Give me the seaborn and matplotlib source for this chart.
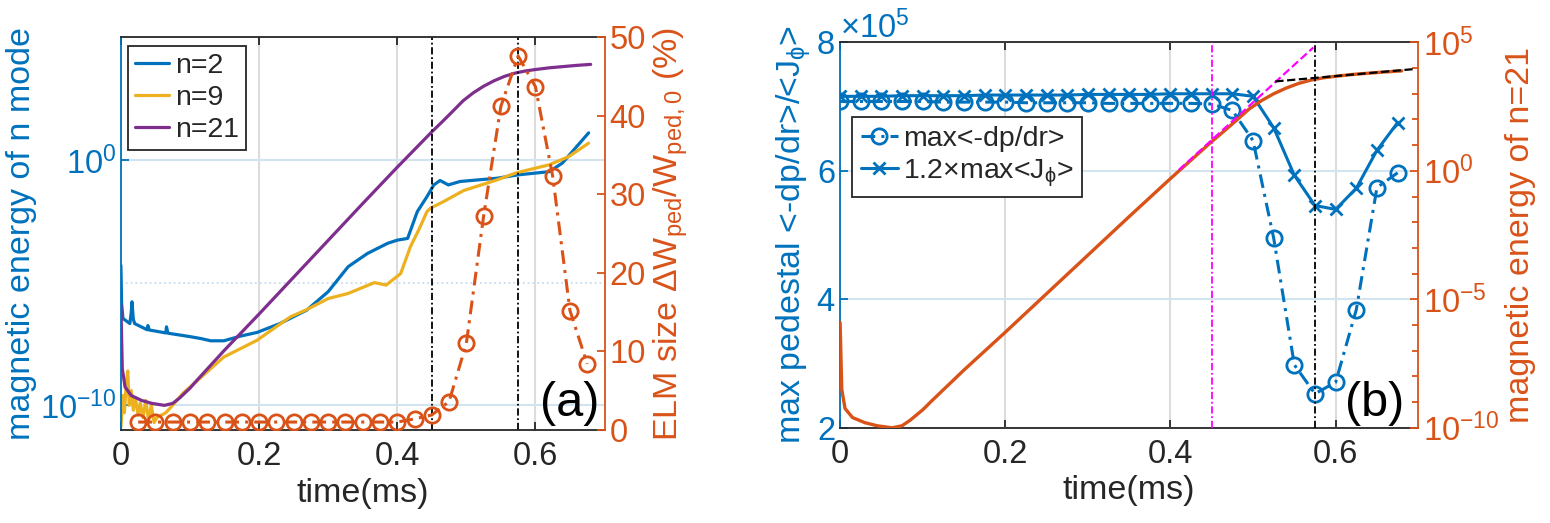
import numpy as np
import pandas as pd
import matplotlib
matplotlib.use("Agg")
import matplotlib.pyplot as plt
import seaborn as sns
from matplotlib.lines import Line2D
from matplotlib.ticker import FixedLocator, ScalarFormatter, LogLocator, NullFormatter

BLUE = "#0072BD"
ORANGE = "#D95319"
YELLOW = "#EDB120"
PURPLE = "#7E2F8E"
MAGENTA = "#FF00FF"
DARK = "#262626"

# ---- panel (a): magnetic energy of n modes (log10 values) ----
t_n2 = [0.0, 0.001, 0.003, 0.013, 0.015, 0.016, 0.018, 0.02, 0.038, 0.039, 0.041,
        0.065, 0.066, 0.068, 0.1, 0.116, 0.13, 0.149, 0.173, 0.197, 0.23, 0.269,
        0.3, 0.329, 0.357, 0.386, 0.4, 0.415, 0.429, 0.443, 0.453, 0.462, 0.474,
        0.491, 0.515, 0.544, 0.575, 0.62, 0.639, 0.677]
log_n2 = [-4.3, -5.85, -6.46, -6.67, -6.2, -5.78, -6.5, -6.67, -6.92, -6.75, -6.93,
          -7.05, -6.8, -7.06, -7.2, -7.28, -7.37, -7.37, -7.18, -7.03, -6.67, -6.12,
          -5.37, -4.35, -3.81, -3.4, -3.27, -3.2, -2.11, -1.5, -1.02, -0.84, -1.02,
          -0.88, -0.82, -0.75, -0.61, -0.48, -0.13, 1.1]

t_n9 = [0.0, 0.003, 0.005, 0.008, 0.01, 0.012, 0.015, 0.018, 0.021, 0.025, 0.028,
        0.032, 0.036, 0.04, 0.044, 0.048, 0.052, 0.065, 0.077, 0.09, 0.111, 0.149,
        0.197, 0.245, 0.269, 0.3, 0.329, 0.367, 0.384, 0.405, 0.419, 0.431, 0.443,
        0.448, 0.467, 0.496, 0.544, 0.572, 0.62, 0.648, 0.677]
log_n9 = [-10.9, -9.6, -10.3, -9.0, -8.6, -10.0, -9.4, -10.2, -9.7, -10.4, -9.9,
          -10.5, -9.8, -10.6, -10.0, -10.7, -10.5, -10.3, -9.93, -9.5, -8.98, -8.03,
          -7.35, -6.4, -6.1, -5.65, -5.44, -5.0, -5.1, -4.63, -3.54, -2.86, -2.11,
          -1.97, -1.7, -1.25, -0.82, -0.53, -0.2, 0.13, 0.68]

t_n21 = [0.0, 0.002, 0.006, 0.015, 0.03, 0.045, 0.063, 0.075, 0.085, 0.1, 0.111,
         0.15, 0.2, 0.25, 0.3, 0.35, 0.4, 0.45, 0.465, 0.48, 0.495, 0.51, 0.525,
         0.54, 0.555, 0.57, 0.585, 0.6, 0.62, 0.64, 0.66, 0.68]
log_n21 = [-5.9, -8.5, -9.25, -9.6, -9.8, -9.92, -10.0, -9.92, -9.7, -9.3, -8.95,
           -7.75, -6.28, -4.78, -3.28, -1.78, -0.3, 1.14, 1.55, 1.97, 2.4, 2.73, 3.0,
           3.22, 3.4, 3.53, 3.62, 3.68, 3.75, 3.8, 3.85, 3.89]

# ELM size (%)
t_elm = [0.025, 0.05, 0.075, 0.1, 0.125, 0.15, 0.175, 0.2, 0.225, 0.25, 0.275, 0.3,
         0.325, 0.35, 0.375, 0.4, 0.425, 0.45, 0.475, 0.5, 0.525, 0.55, 0.575, 0.6,
         0.625, 0.65, 0.675]
elm_size = [1.0, 1.0, 1.0, 1.0, 1.0, 1.0, 1.0, 1.0, 1.0, 1.0, 1.0, 1.0,
            1.0, 1.0, 1.0, 1.0, 1.4, 1.9, 3.6, 11.0, 27.2, 41.2, 47.6, 43.7,
            32.3, 15.2, 8.4]
vlines_a = [0.45, 0.575]

# ---- panel (b): pedestal gradients (x1e5) and n=21 energy ----
t_grad = [0.0, 0.025, 0.05, 0.075, 0.1, 0.125, 0.15, 0.175, 0.2, 0.225, 0.25, 0.275,
          0.3, 0.325, 0.35, 0.375, 0.4, 0.425, 0.45, 0.475, 0.5, 0.525, 0.55, 0.575,
          0.6, 0.625, 0.65, 0.675]
dpdr = [7.08, 7.08, 7.08, 7.08, 7.08, 7.07, 7.07, 7.07, 7.07, 7.06, 7.06, 7.06,
        7.06, 7.05, 7.05, 7.05, 7.05, 7.05, 7.04, 6.94, 6.47, 4.95, 2.98, 2.53,
        2.71, 3.84, 5.74, 5.97]
jphi = [7.16, 7.16, 7.16, 7.17, 7.17, 7.17, 7.17, 7.18, 7.18, 7.18, 7.18, 7.18,
        7.19, 7.19, 7.19, 7.19, 7.2, 7.2, 7.2, 7.2, 7.16, 6.67, 5.93, 5.46,
        5.40, 5.73, 6.32, 6.75]
t_fit_lin = [0.41, 0.573]
log_fit_lin = [0.03, 4.8]
t_fit_sat = [0.527, 0.695]
log_fit_sat = [3.48, 3.96]
vline_mag = 0.45
vline_blk = 0.575

sns.set_theme(style="white")
plt.rcParams["font.family"] = ["Liberation Sans", "DejaVu Sans"]
plt.rcParams["mathtext.default"] = "regular"

FS = 23.5      # tick labels
FL = 24.5      # axis labels
FLEG = 20.5    # legends

energy = pd.concat([
    pd.DataFrame({"t": t_n2, "E": np.power(10.0, log_n2), "mode": "n=2"}),
    pd.DataFrame({"t": t_n9, "E": np.power(10.0, log_n9), "mode": "n=9"}),
    pd.DataFrame({"t": t_n21, "E": np.power(10.0, log_n21), "mode": "n=21"}),
])
elm = pd.DataFrame({"t": t_elm, "size": elm_size})
grad = pd.DataFrame({"t": t_grad, "dpdr": np.array(dpdr) * 1e5, "jphi": np.array(jphi) * 1e5})
n21 = pd.DataFrame({"t": t_n21, "E": np.power(10.0, log_n21)})

DASHDOT = (4.5, 2, 1, 2)


def style_pair(ax, axr, lcol, rcol):
    ax.spines["left"].set_color(lcol)
    ax.spines["right"].set_visible(False)
    for s in ["top", "bottom"]:
        ax.spines[s].set_color(DARK)
    for s in ["left", "top", "bottom"]:
        axr.spines[s].set_visible(False)
    axr.spines["right"].set_color(rcol)
    for a in (ax, axr):
        for sp in a.spines.values():
            sp.set_linewidth(1.3)
    ax.tick_params(axis="x", direction="in", top=True, bottom=True, length=6, width=1.3,
                   colors=DARK, labelsize=FS, pad=8)
    ax.tick_params(axis="y", which="both", direction="in", left=True, right=False,
                   length=6, width=1.3, colors=lcol, labelsize=FS)
    axr.tick_params(axis="y", which="both", direction="in", right=True, left=False,
                    length=6, width=1.3, colors=rcol, labelsize=FS)
    ax.set_axisbelow(True)
    ax.grid(axis="x", color="#dcdcdc", lw=1.5)
    ax.grid(axis="y", which="major", color="#d3e4f1", lw=1.5)


fig = plt.figure(figsize=(15.5, 5.23), dpi=100)

# ---------------- panel (a) ----------------
ax1 = fig.add_axes([0.078, 0.178, 0.312, 0.751])
ax1r = ax1.twinx()
sns.lineplot(data=energy, x="t", y="E", hue="mode", palette=[BLUE, YELLOW, PURPLE],
             estimator=None, sort=False, lw=2.3, ax=ax1, legend=False)
ax1.set_yscale("log")
ax1.set_xlim(0, 0.7)
ax1.set_ylim(1e-11, 1e5)
ax1.yaxis.set_major_locator(FixedLocator([1e-10, 1e0]))
ax1.yaxis.set_minor_locator(FixedLocator([1e-5]))
ax1.yaxis.set_minor_formatter(NullFormatter())
ax1.set_xticks([0, 0.2, 0.4, 0.6])
ax1.set_xticklabels(["0", "0.2", "0.4", "0.6"])
for xv in vlines_a:
    ax1.axvline(xv, color="black", ls="-.", lw=1.3, dashes=(4, 1.5, 1, 1.5))

sns.lineplot(data=elm, x="t", y="size", color=ORANGE, lw=2.2, ls="--",
             marker="o", markersize=11, markerfacecolor="none", markeredgecolor=ORANGE,
             markeredgewidth=2.0, estimator=None, ax=ax1r)
ax1r.lines[-1].set_dashes(DASHDOT)
ax1r.set_ylim(0, 50)
ax1r.set_yticks([0, 10, 20, 30, 40, 50])
style_pair(ax1, ax1r, BLUE, ORANGE)
ax1.grid(axis="y", which="minor", color="#c6dcef", lw=1.3, ls=":")
ax1.tick_params(axis="y", which="minor", length=0)

ax1.set_xlabel("time(ms)", fontsize=FL, color=DARK, labelpad=4)
ax1.set_ylabel("magnetic energy of n mode", fontsize=FL, color=BLUE, labelpad=2)
ax1r.set_ylabel(r"ELM size $\Delta$W$_{ped}$/W$_{ped,0}$ (%)", fontsize=FL,
                color=ORANGE, labelpad=4)
ax1r.set_xlabel("")

handles_a = [Line2D([], [], color=c, lw=2.3) for c in (BLUE, YELLOW, PURPLE)]
leg = ax1.legend(handles_a, ["n=2", "n=9", "n=21"], loc="upper left",
                 bbox_to_anchor=(0.0145, 0.977), fontsize=FLEG, frameon=True,
                 fancybox=False, framealpha=1, edgecolor=DARK, handlelength=1.2,
                 handletextpad=0.2, borderpad=0.25, labelspacing=0.2, borderaxespad=0)
leg.get_frame().set_linewidth(1.3)
ax1r.text(0.99, 0.01, "(a)", transform=ax1r.transAxes, ha="right", va="bottom",
          fontsize=35, color="black")

# ---------------- panel (b) ----------------
ax2 = fig.add_axes([0.542, 0.182, 0.373, 0.737])
ax2r = ax2.twinx()
sns.lineplot(data=grad, x="t", y="dpdr", color=BLUE, lw=2.2, marker="o", markersize=11,
             markerfacecolor="none", markeredgecolor=BLUE, markeredgewidth=2.0,
             estimator=None, ax=ax2, label="max<-dp/dr>")
ax2.lines[-1].set_dashes(DASHDOT)
sns.lineplot(data=grad, x="t", y="jphi", color=BLUE, lw=2.2, marker="x", markersize=9,
             markeredgecolor=BLUE, markeredgewidth=2.0, estimator=None, ax=ax2,
             label=r"1.2$\times$max<J$_{\phi}$>")
ax2.set_xlim(0, 0.7)
ax2.set_ylim(2e5, 8e5)
ax2.set_yticks([2e5, 4e5, 6e5, 8e5])
fmt = ScalarFormatter(useMathText=True)
fmt.set_powerlimits((0, 0))
ax2.yaxis.set_major_formatter(fmt)
ax2.yaxis.get_offset_text().set_fontsize(FS)
ax2.yaxis.get_offset_text().set_color(BLUE)
ax2.set_xticks([0, 0.2, 0.4, 0.6])
ax2.set_xticklabels(["0", "0.2", "0.4", "0.6"])

sns.lineplot(data=n21, x="t", y="E", color=ORANGE, lw=2.4, estimator=None, ax=ax2r)
fit_lin = pd.DataFrame({"t": t_fit_lin, "E": np.power(10.0, log_fit_lin)})
fit_sat = pd.DataFrame({"t": t_fit_sat, "E": np.power(10.0, log_fit_sat)})
sns.lineplot(data=fit_lin, x="t", y="E", color=MAGENTA, lw=1.6, ls="--", ax=ax2r,
             estimator=None)
sns.lineplot(data=fit_sat, x="t", y="E", color="black", lw=1.6, ls="--", ax=ax2r,
             estimator=None)
ax2r.axvline(vline_mag, color=MAGENTA, ls="-.", lw=1.3, dashes=(4, 1.5, 1, 1.5))
ax2r.axvline(vline_blk, color="black", ls="-.", lw=1.3, dashes=(4, 1.5, 1, 1.5))
ax2r.set_yscale("log")
ax2r.set_ylim(1e-10, 1e5)
ax2r.yaxis.set_major_locator(FixedLocator([1e-10, 1e-5, 1e0, 1e5]))
ax2r.yaxis.set_minor_locator(LogLocator(base=10, subs=[1.0], numticks=40))
ax2r.yaxis.set_minor_formatter(NullFormatter())
style_pair(ax2, ax2r, BLUE, ORANGE)
ax2r.tick_params(axis="y", which="minor", length=4)

ax2.set_xlabel("time(ms)", fontsize=FL, color=DARK, labelpad=4)
ax2.set_ylabel(r"max pedestal <-dp/dr>/<J$_{\phi}$>", fontsize=FL, color=BLUE, labelpad=2)
ax2r.set_ylabel("magnetic energy of n=21", fontsize=FL, color=ORANGE, labelpad=4)
ax2r.set_xlabel("")

leg2 = ax2.legend(loc="upper left", bbox_to_anchor=(0.021, 0.806), fontsize=FLEG,
                  frameon=True, fancybox=False, framealpha=1, edgecolor=DARK,
                  handlelength=1.3, handletextpad=0.2, borderpad=0.3, labelspacing=0.2,
                  borderaxespad=0)
leg2.get_frame().set_linewidth(1.3)
ax2r.text(0.975, 0.005, "(b)", transform=ax2r.transAxes, ha="right", va="bottom",
          fontsize=35, color="black")

fig.savefig("out.png", dpi=100)
